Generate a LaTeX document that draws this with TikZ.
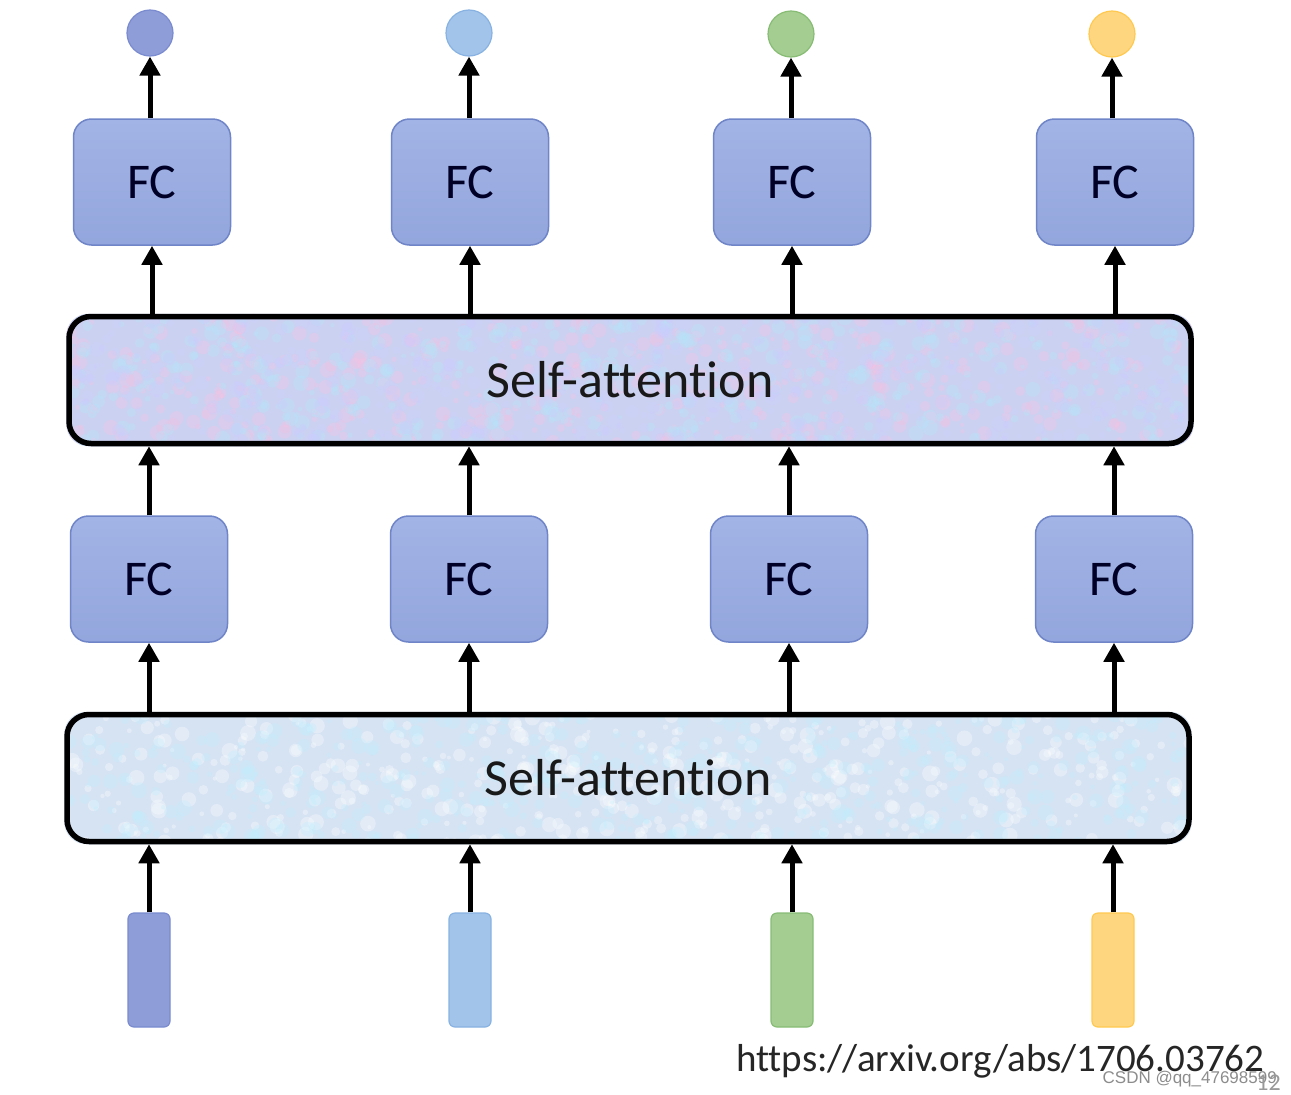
\documentclass[tikz,border=0pt]{standalone}
\usepackage{fontspec}
\setmainfont{Carlito}[Ligatures=NoCommon]
\newfontfamily\wmfont{Liberation Sans}
\usetikzlibrary{arrows.meta,backgrounds}
\definecolor{fcfill}{HTML}{93A6DD}
\definecolor{fcfilltop}{HTML}{A2B3E5}
\definecolor{fcdraw}{HTML}{6F85C8}
\definecolor{saA}{HTML}{CBD2F1}
\definecolor{saB}{HTML}{D6E3F3}
\definecolor{cA}{HTML}{8E9DD8}\definecolor{cAd}{HTML}{7A8BCF}
\definecolor{cB}{HTML}{A2C4EB}\definecolor{cBd}{HTML}{88B2E2}
\definecolor{cC}{HTML}{A3CD91}\definecolor{cCd}{HTML}{88BC74}
\definecolor{cD}{HTML}{FFD680}\definecolor{cDd}{HTML}{FFC950}
\tikzset{
  fcbox/.style={draw=fcdraw, line width=1.5pt, rounded corners=18pt, top color=fcfilltop, bottom color=fcfill,
    minimum width=157pt, minimum height=126pt, inner sep=0pt, font=\fontsize{50}{50}\selectfont, text=black!85!blue},
  sabox/.style={draw=black, line width=5.5pt, rounded corners=22pt, minimum width=1122pt, minimum height=127pt,
    inner sep=0pt, font=\fontsize{52}{52}\selectfont, text=black!90},
  outc/.style={circle, line width=1.2pt, minimum size=46pt, inner sep=0pt},
  inrect/.style={line width=1.2pt, rounded corners=6pt, minimum width=42pt, minimum height=114pt, inner sep=0pt},
  arr/.style={line width=5pt, -{Triangle[width=20pt,length=19pt]}},
}
\begin{document}
\begin{tikzpicture}[x=1pt,y=-1pt]
\useasboundingbox (0,0) rectangle (1291,1095);
% output circles
\node[outc, fill=cA, draw=cAd] (c1) at (150,33) {};
\node[outc, fill=cB, draw=cBd] (c2) at (469,33) {};
\node[outc, fill=cC, draw=cCd] (c3) at (791,34) {};
\node[outc, fill=cD, draw=cDd] (c4) at (1112,34) {};
% top FC
\node[fcbox] (t1) at (152,182) {FC};
\node[fcbox] (t2) at (470,182) {FC};
\node[fcbox] (t3) at (792,182) {FC};
\node[fcbox] (t4) at (1115,182) {FC};
% top self-attention
\node[sabox] (sa2) at (630,380) {Self-attention};
% bottom FC
\node[fcbox] (b1) at (149,579) {FC};
\node[fcbox] (b2) at (469,579) {FC};
\node[fcbox] (b3) at (789,579) {FC};
\node[fcbox] (b4) at (1114,579) {FC};
% bottom self-attention
\node[sabox] (sa1) at (628,778) {Self-attention};
% inputs
\node[inrect, fill=cA, draw=cAd] (i1) at (149,970) {};
\node[inrect, fill=cB, draw=cBd] (i2) at (470,970) {};
\node[inrect, fill=cC, draw=cCd] (i3) at (792,970) {};
\node[inrect, fill=cD, draw=cDd] (i4) at (1113,970) {};
% textures
\begin{scope}[on background layer]
  \fill[saA, rounded corners=22pt] (sa2.south west) rectangle (sa2.north east);
  \fill[saB, rounded corners=22pt] (sa1.south west) rectangle (sa1.north east);
  \pgfmathsetseed{7}
  \begin{scope}
    \clip[rounded corners=22pt] (sa2.south west) rectangle (sa2.north east);
    \foreach \i in {1,...,450}{
      \pgfmathsetmacro{\rx}{70+rnd*1122}\pgfmathsetmacro{\ry}{316+rnd*127}\pgfmathsetmacro{\rr}{2+rnd*6}
      \fill[magenta!25, opacity=0.3] (\rx,\ry) circle (\rr);}
    \foreach \i in {1,...,450}{
      \pgfmathsetmacro{\rx}{70+rnd*1122}\pgfmathsetmacro{\ry}{316+rnd*127}\pgfmathsetmacro{\rr}{2+rnd*6}
      \fill[cyan!30, opacity=0.3] (\rx,\ry) circle (\rr);}
    \foreach \i in {1,...,450}{
      \pgfmathsetmacro{\rx}{70+rnd*1122}\pgfmathsetmacro{\ry}{316+rnd*127}\pgfmathsetmacro{\rr}{2+rnd*6}
      \fill[blue!20, opacity=0.3] (\rx,\ry) circle (\rr);}
  \end{scope}
  \begin{scope}
    \clip[rounded corners=22pt] (sa1.south west) rectangle (sa1.north east);
    \foreach \i in {1,...,500}{
      \pgfmathsetmacro{\rx}{67+rnd*1122}\pgfmathsetmacro{\ry}{714+rnd*128}\pgfmathsetmacro{\rr}{2+rnd*6}
      \fill[white, opacity=0.3] (\rx,\ry) circle (\rr);}
    \foreach \i in {1,...,500}{
      \pgfmathsetmacro{\rx}{67+rnd*1122}\pgfmathsetmacro{\ry}{714+rnd*128}\pgfmathsetmacro{\rr}{2+rnd*6}
      \fill[blue!25!cyan!25, opacity=0.3] (\rx,\ry) circle (\rr);}
  \end{scope}
\end{scope}
% arrows
\foreach \k in {1,2,3,4}{
  \draw[arr] (t\k.north -| c\k) -- (c\k.south);
  \draw[arr] (sa2.north -| t\k) -- (t\k.south);
  \draw[arr] (b\k.north) -- (b\k.north |- sa2.south);
  \draw[arr] (sa1.north -| b\k) -- (b\k.south);
  \draw[arr] (i\k.north) -- (i\k.north |- sa1.south);
}
% caption
\node[anchor=base west, inner sep=0pt, font=\fontsize{39}{39}\selectfont, text=black!85] (url) at (736,1071) {https://arxiv.org/abs/1706.03762};
\node[anchor=base east, inner sep=0pt, font=\wmfont\fontsize{17}{17}\selectfont, text=black!45] (wm) at (1277,1083) {CSDN @qq\_47698599};
\node[anchor=base east, inner sep=0pt, font=\fontsize{24}{24}\selectfont, text=black!40] (pg) at (1281,1090) {12};
\end{tikzpicture}
\end{document}
